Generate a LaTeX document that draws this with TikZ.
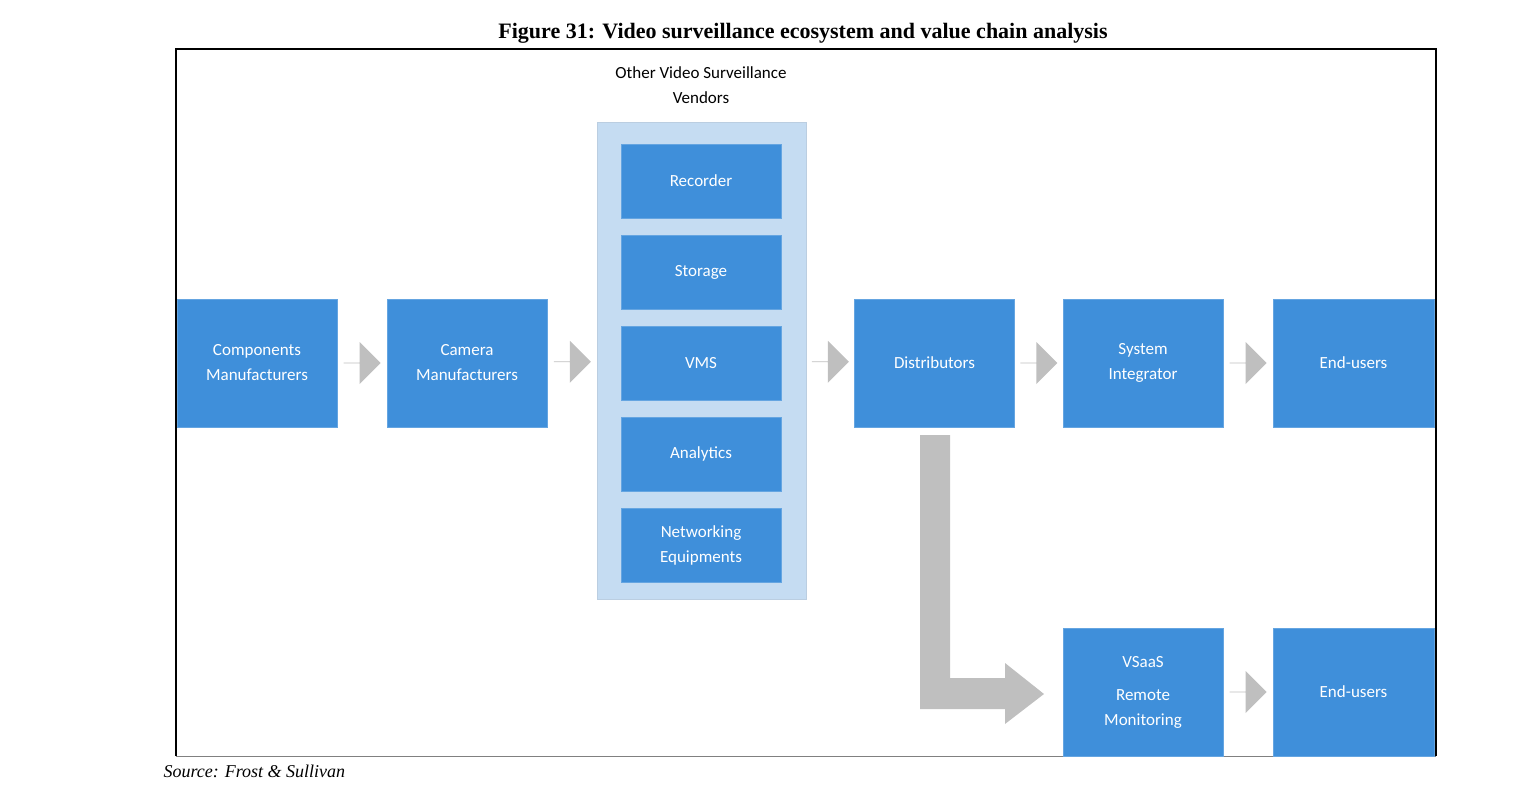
\documentclass[tikz,border=0pt]{standalone}
\usepackage{fontspec}
\setmainfont{Liberation Serif}
\newfontfamily\boxfont{Carlito}
\usetikzlibrary{shapes.arrows,calc}
\definecolor{bblue}{HTML}{3F8FDA}
\definecolor{lblue}{HTML}{C5DCF2}
\definecolor{agray}{HTML}{BFBFBF}
\tikzset{
  box/.style={fill=bblue,draw=bblue!80!white,line width=0.6pt,text=white,font=\boxfont\fontsize{17}{25}\selectfont,align=center,inner sep=0pt,minimum width=160pt,minimum height=128pt},
  sbox/.style={box,minimum height=74pt},
  garrow/.style={single arrow,fill=agray,draw=none,minimum width=42pt,minimum height=37pt,single arrow head extend=10pt,inner sep=0pt}
}
\begin{document}
\begin{tikzpicture}[x=1pt,y=-1pt]
\useasboundingbox (0,0) rectangle (1536,794);
\node[font=\bfseries\fontsize{22}{26}\selectfont] (title) at (803,33) {Figure 31: Video surveillance ecosystem and value chain analysis};
\node[font=\itshape\fontsize{18}{22}\selectfont,anchor=west] (src) at (160,771) {Source: Frost \& Sullivan};
\draw[line width=2pt] (176,756) -- (176,49) -- (1436,49) -- (1436,756);
\draw[gray,line width=0.8pt] (176,756) -- (1436,756);
\node[fill=lblue,draw=lblue!85!gray,minimum width=209pt,minimum height=477pt,inner sep=0pt] (panel) at (701.5,360.5) {};
\node[font=\boxfont\fontsize{17}{25}\selectfont,align=center] (ptitle) at (701,85) {Other Video Surveillance\\Vendors};
\node[sbox] (rec) at (701,181) {Recorder};
\node[sbox] (sto) at (701,272) {Storage};
\node[sbox] (vms) at (701,363) {VMS};
\node[sbox] (ana) at (701,454) {Analytics};
\node[sbox] (net) at (701,545) {Networking\\Equipments};
\node[box] (comp) at (257,363) {Components\\Manufacturers};
\node[box] (cam) at (467,363) {Camera\\Manufacturers};
\node[box] (dist) at (934.5,363) {Distributors};
\node[box] (si) at (1143,363) {System\\Integrator};
\node[box,minimum width=161pt] (eu1) at (1353.5,363) {End-users};
\node[box] (vsaas) at (1143,692) {VSaaS\\[8pt]Remote\\Monitoring};
\node[box,minimum width=161pt] (eu2) at (1353.5,692) {End-users};
\node[garrow] (a1) at ($(comp.east)!0.5!(cam.west)$) {};
\node[garrow] (a2) at ($(cam.east)!0.5!(panel.west)$) {};
\node[garrow] (a3) at ($(panel.east)!0.5!(dist.west)$) {};
\node[garrow] (a4) at ($(dist.east)!0.5!(si.west)$) {};
\node[garrow] (a5) at ($(si.east)!0.5!(eu1.west)$) {};
\node[garrow] (a6) at ($(vsaas.east)!0.5!(eu2.west)$) {};
\fill[agray] (920,435) -- (950,435) -- (950,678) -- (1005,678) -- (1005,663) -- (1044,694) -- (1005,724) -- (1005,709) -- (920,709) -- cycle;
\end{tikzpicture}
\end{document}
